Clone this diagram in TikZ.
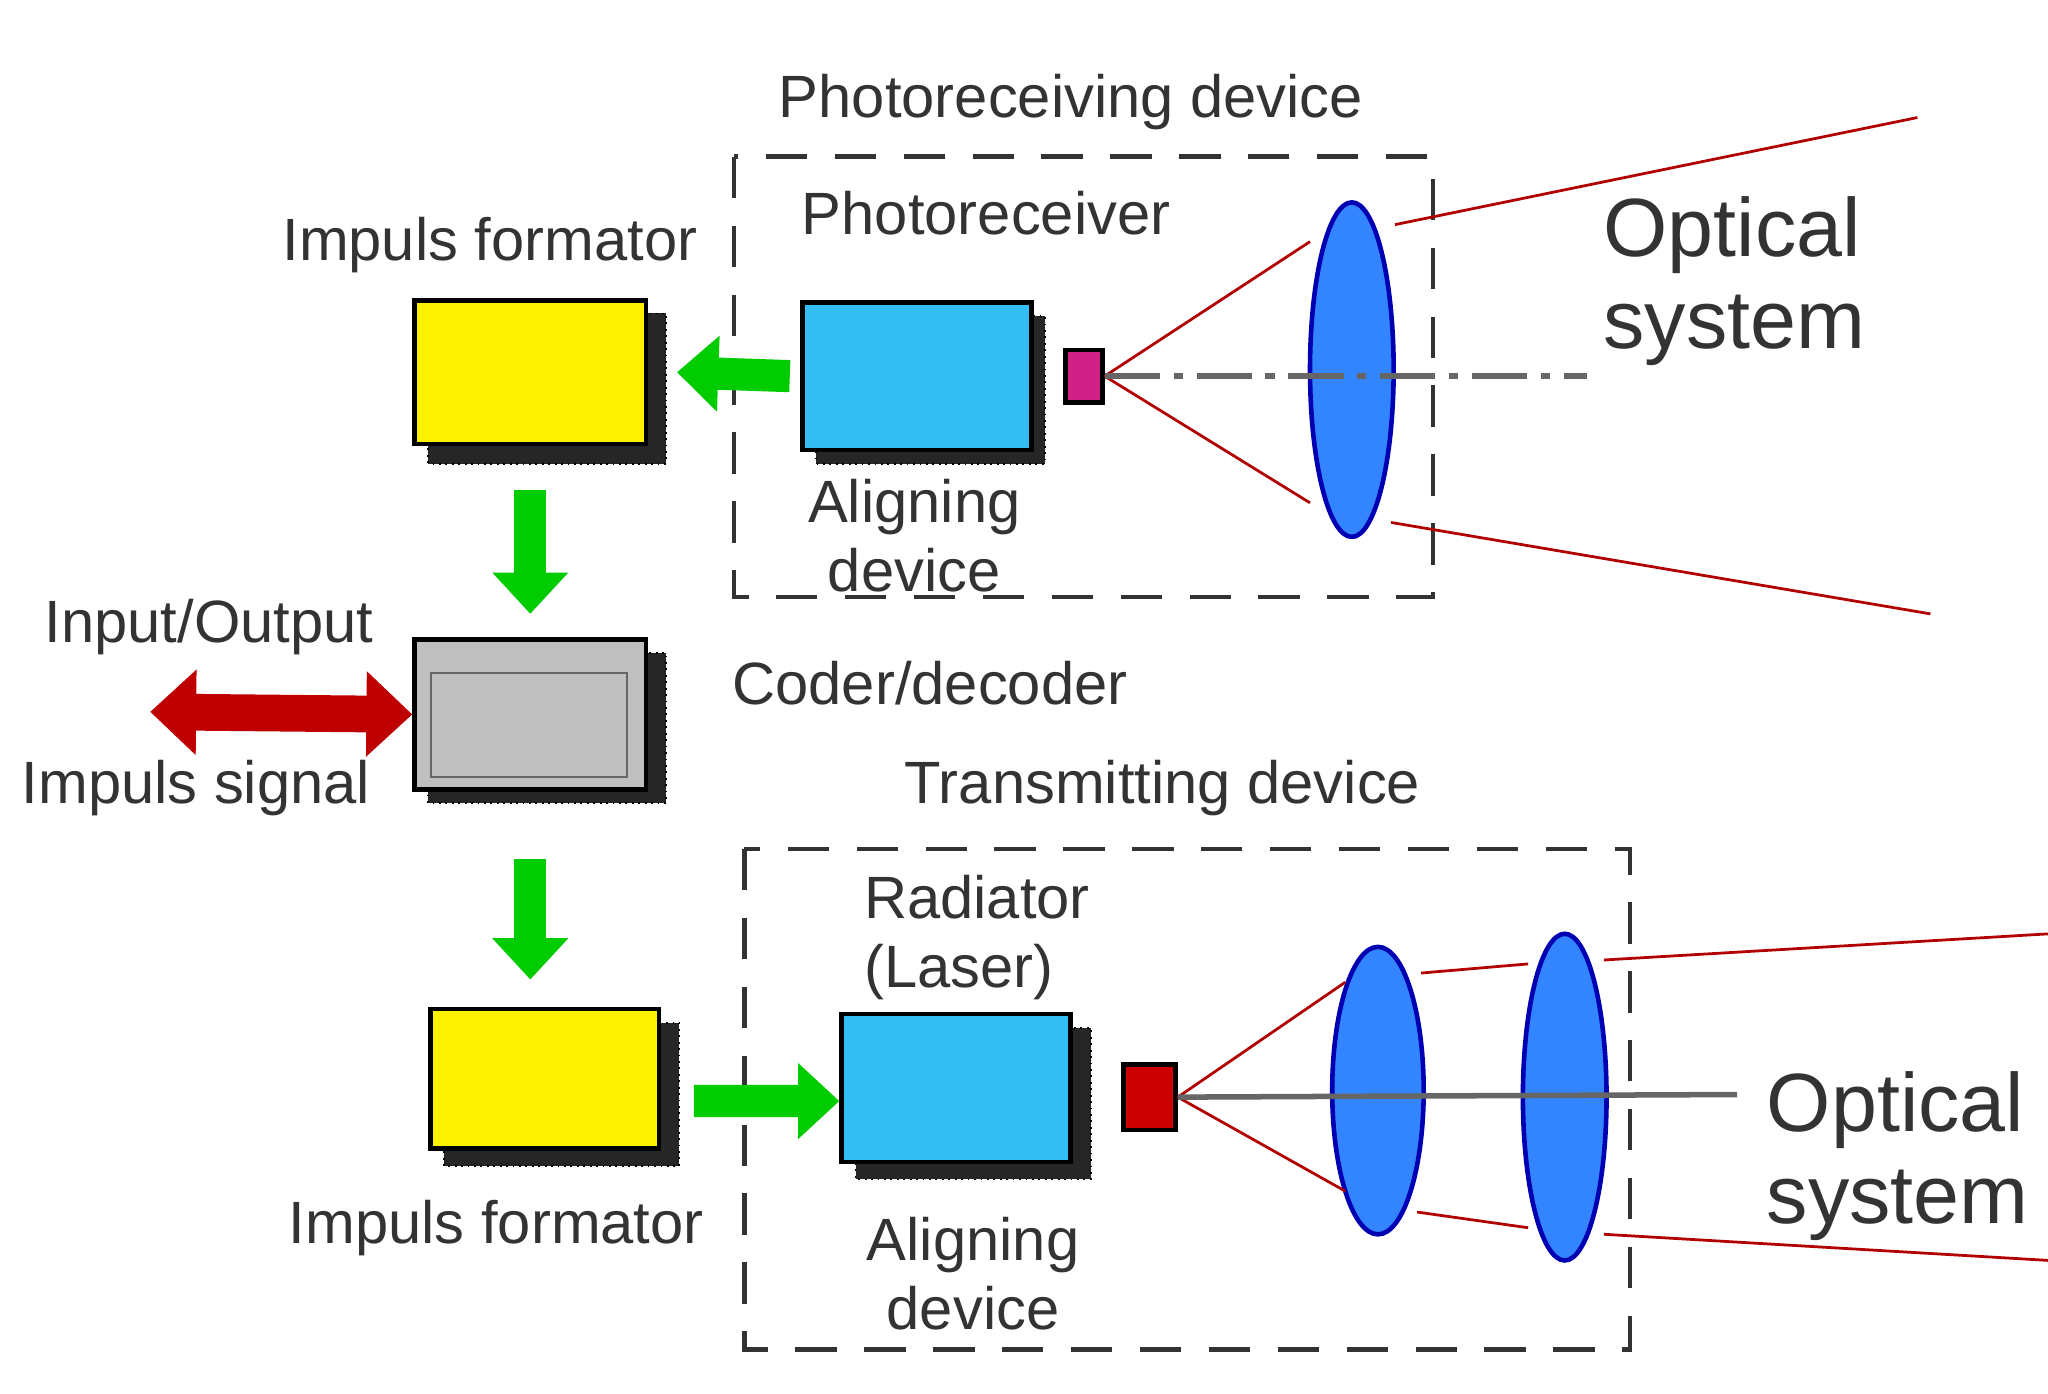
\documentclass[tikz,border=0pt]{standalone}
\usepackage{fontspec}
\setmainfont{Liberation Sans}
\usetikzlibrary{arrows.meta,positioning,shapes.geometric}
\tikzstyle{lbl}=[font=\fontsize{13}{15}\selectfont, text=black!80, align=center]
\tikzstyle{big}=[font=\fontsize{18}{20}\selectfont, text=black!80, align=left]
\tikzstyle{blk}=[draw=black, line width=1, inner sep=0pt]
\tikzstyle{shd}=[fill=black!85, draw=black, densely dotted]
\tikzstyle{frame}=[draw=black!80, dashed, dash pattern=on 9pt off 6pt, line width=1]
\tikzstyle{garrow}=[draw=green!75!black, line width=7, -{Triangle[length=9pt,width=16pt]}, color=green!80!black]
\tikzstyle{ray}=[draw=red!70!black, line width=0.6]
\tikzstyle{lens}=[ellipse, fill=blue!60!cyan!80, draw=blue!70!black, line width=1, inner sep=0pt]
\begin{document}
\begin{tikzpicture}[x=0.01cm,y=-0.01cm]
    \useasboundingbox (0,0) rectangle (1568,1067);
    % shadows
    \fill[shd] (328,240) rectangle (510,355);
    \fill[shd] (625,242) rectangle (800,355);
    \fill[shd] (328,500) rectangle (510,615);
    \fill[shd] (340,783) rectangle (520,893);
    \fill[shd] (655,787) rectangle (835,903);
    % boxes
    \node[blk, fill=yellow, minimum width=1.77cm, minimum height=1.10cm] (yel1) at (406,285) {};
    \node[blk, fill=cyan!80, minimum width=1.75cm, minimum height=1.13cm] (cya1) at (702,288) {};
    \node[blk, fill=black!25, minimum width=1.77cm, minimum height=1.15cm] (cod) at (406,547) {};
    \draw[black!60] (330,515) rectangle (480,595);
    \node[blk, fill=yellow, minimum width=1.75cm, minimum height=1.07cm] (yel2) at (417,826) {};
    \node[blk, fill=cyan!80, minimum width=1.75cm, minimum height=1.13cm] (cya2) at (732,833) {};
    % frames
    \draw[frame] (562,120) rectangle (1097,457);
    \draw[frame] (570,650) rectangle (1248,1033);
    % detectors
    \node[blk, fill=magenta!70!violet, minimum width=0.28cm, minimum height=0.40cm] (det) at (830,288) {};
    \node[blk, fill=red!80!black, minimum width=0.40cm, minimum height=0.50cm] (las) at (880,840) {};
    % lenses
    \node[lens, minimum width=0.64cm, minimum height=2.56cm] (ln1) at (1035,283) {};
    \node[lens, minimum width=0.70cm, minimum height=2.20cm] (ln2) at (1055,835) {};
    \node[lens, minimum width=0.64cm, minimum height=2.50cm] (ln3) at (1198,840) {};
    % rays
    \coordinate (r1) at (1468,90);
    \coordinate (r2) at (1478,470);
    \coordinate (r3) at (1568,715);
    \coordinate (r4) at (1568,965);
    \draw[ray] (det.east) -- (1003,185);
    \draw[ray] (det.east) -- (1003,385);
    \draw[ray] (1068,172) -- (r1);
    \draw[ray] (1065,400) -- (r2);
    \draw[black!60, line width=1.2, dash pattern=on 12pt off 3pt on 2pt off 3pt] (det.east) -- (1215,288);
    \draw[ray] (las.east) -- (1030,752) (1088,745) -- (1170,738) (1228,735) -- (r3);
    \draw[ray] (las.east) -- (1030,912) (1085,928) -- (1170,940) (1228,945) -- (r4);
    \draw[black!60, line width=1.2] (las.east) -- (1330,838);
    % arrows
    \draw[garrow] ([xshift=-0.08cm]cya1.west) -- ([xshift=0.22cm]yel1.east);
    \draw[garrow] (406,375) -- (406,470);
    \draw[garrow] (406,658) -- (406,750);
    \draw[garrow] ([xshift=0.25cm,yshift=-0.17cm]yel2.east) -- ([yshift=-0.1cm]cya2.west);
    \draw[line width=8, red!75!black, {Triangle[length=10pt,width=18pt]}-{Triangle[length=10pt,width=18pt]}] (115,545) -- (cod.west);
    % labels
    \node[lbl] (t1) at (820,78) {Photoreceiving device};
    \node[lbl] (t2) at (755,163) {Photoreceiver};
    \node[lbl] (t3) at (375,188) {Impuls formator};
    \node[lbl] (t4) at (700,410) {Aligning\\device};
    \node[big] (t5) at (1328,215) {Optical\\system};
    \node[lbl] (t6) at (160,480) {Input/Output};
    \node[lbl] (t7) at (150,603) {Impuls signal};
    \node[lbl] (t8) at (712,523) {Coder/decoder};
    \node[lbl] (t9) at (890,603) {Transmitting device};
    \node[lbl, align=left] (t10) at (748,718) {Radiator\\(Laser)};
    \node[lbl] (t11) at (380,940) {Impuls formator};
    \node[lbl] (t12) at (745,975) {Aligning\\device};
    \node[big] (t13) at (1453,885) {Optical\\system};
\end{tikzpicture}
\end{document}
